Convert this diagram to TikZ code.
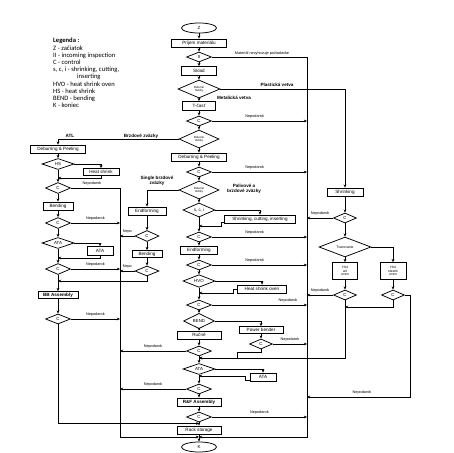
\documentclass[tikz,border=0pt]{standalone}
\usepackage{fontspec}
\setmainfont{Liberation Sans}
\newfontfamily\legfont{Carlito}
\usetikzlibrary{shapes.geometric,arrows.meta}
\newcommand{\fsz}[1]{\fontsize{#1}{#1}\selectfont}
\tikzset{
 every node/.style={inner sep=0pt},
 box/.style={draw, line width=0.75pt, rectangle, font=\fsz{4.6}, align=center},
 dia/.style={draw, line width=0.75pt, diamond, font=\fsz{4.4}, align=center},
 ov/.style={draw, line width=0.75pt, ellipse, font=\fsz{4.4}},
 ln/.style={line width=0.75pt},
 ar/.style={ln, -{Stealth[length=3.2pt,width=2.8pt]}},
 lab/.style={font=\fsz{3.8}},
 blab/.style={font=\bfseries\fsz{4.6}, align=center},
}
\begin{document}
\begin{tikzpicture}[x=1pt,y=-1pt]
\useasboundingbox (0,0) rectangle (453,453);
\fill[white] (0,0) rectangle (453,453);
\coordinate (R) at (307,0);
\coordinate (L) at (120,0);
% legend
\node[anchor=north west, align=left, font=\legfont\fontsize{6.6}{7.2}\selectfont] (legend) at (53,38)
 {\textbf{Legenda :}\\Z - začiatok\\II - incoming inspection\\C - control\\s, c, i - shrinking, cutting,\\\hspace*{24pt}inserting\\HVO - heat shrink oven\\HS - heat shrink\\BEND - bending\\K - koniec};
% main column
\node[ov, minimum width=35pt, minimum height=10pt] (z) at (199,28) {Z};
\node[box, minimum width=55pt, minimum height=8pt] (prijem) at (199,43) {Príjem materiálu};
\node[dia, minimum width=25pt, minimum height=10pt] (ii) at (199,57) {II};
\node[box, minimum width=35pt, minimum height=9pt] (sklad) at (199,71) {Sklad};
\node[dia, font=\fsz{3}, minimum width=42pt, minimum height=18pt] (del1) at (199,89) {Delenie\\trubky};
\node[box, minimum width=33pt, minimum height=9pt] (tcast) at (199,106) {T-časť};
\node[dia, minimum width=25pt, minimum height=10pt] (c1) at (199,121) {C};
\node[dia, font=\fsz{3}, minimum width=40pt, minimum height=18pt] (del2) at (199,139) {Delenie\\trubky};
\node[box, minimum width=55pt, minimum height=8pt] (dp) at (199,157) {Deburring \& Peeling};
\node[dia, minimum width=25pt, minimum height=10pt] (c2) at (199,172) {C};
\node[dia, font=\fsz{3}, minimum width=40pt, minimum height=18pt] (del3) at (199,190) {Delenie\\trubky};
\node[dia, minimum width=32pt, minimum height=12pt] (sci) at (199,210) {s, c, i};
\node[box, minimum width=71pt, minimum height=8pt] (scibox) at (260,219) {Shrinking, cutting, inserting};
\node[dia, minimum width=25pt, minimum height=10pt] (c3) at (199,237) {C};
\node[box, minimum width=37pt, minimum height=8pt] (endf) at (199,250) {Endforming};
\node[dia, minimum width=25pt, minimum height=10pt] (c4) at (199,265) {C};
\node[dia, minimum width=32pt, minimum height=11pt] (hvo) at (199,281) {HVO};
\node[box, minimum width=49pt, minimum height=8pt] (hso) at (262,289) {Heat shrink oven};
\node[dia, minimum width=25pt, minimum height=10pt] (c5) at (199,305) {C};
\node[dia, minimum width=31pt, minimum height=11pt] (bend) at (199,321) {BEND};
\node[box, minimum width=44pt, minimum height=7pt] (pb) at (261,330) {Power bender};
\node[dia, minimum width=23pt, minimum height=10pt] (cpb) at (261,344) {C};
\node[box, minimum width=44pt, minimum height=8pt] (rucne) at (199,335) {Ručné};
\node[dia, minimum width=25pt, minimum height=10pt] (c6) at (199,351) {C};
\node[dia, minimum width=32pt, minimum height=11pt] (ata) at (199,369) {ATA};
\node[box, minimum width=26pt, minimum height=8pt] (atabox) at (263,377) {ATA};
\node[dia, minimum width=25pt, minimum height=10pt] (c7) at (199,389) {C};
\node[box, font=\bfseries\fsz{4.6}, minimum width=44pt, minimum height=8pt] (rf) at (199,402) {R\&F Assembly};
\node[dia, minimum width=25pt, minimum height=10pt] (c8) at (199,417) {C};
\node[box, minimum width=44pt, minimum height=8pt] (rack) at (199,430) {Rack storage};
\node[ov, minimum width=35pt, minimum height=10pt] (k) at (199,447) {K};
% left column
\node[box, minimum width=55pt, minimum height=8pt] (ldp) at (58,149) {Deburring \& Peeling};
\node[dia, minimum width=32pt, minimum height=11pt] (hs) at (58,164) {HS};
\node[box, minimum width=36pt, minimum height=7pt] (hsbox) at (101,172) {Heat shrink};
\node[dia, minimum width=25pt, minimum height=11pt] (lc1) at (58,188) {C};
\node[box, minimum width=30pt, minimum height=8pt] (lbend) at (58,206) {Bending};
\node[dia, minimum width=25pt, minimum height=11pt] (lc2) at (58,223) {C};
\node[dia, minimum width=32pt, minimum height=11pt] (lata) at (58,243) {ATA};
\node[box, minimum width=26pt, minimum height=9pt] (latabox) at (100,251) {ATA};
\node[dia, minimum width=25pt, minimum height=11pt] (lc3) at (58,269) {C};
\node[box, font=\bfseries\fsz{4.6}, minimum width=40pt, minimum height=7pt] (bb) at (58,295) {BB Assembly};
\node[dia, minimum width=25pt, minimum height=10pt] (lc4) at (58,319) {C};
% single column
\node[box, minimum width=38pt, minimum height=8pt] (send) at (147,211) {Endforming};
\node[dia, minimum width=24pt, minimum height=11pt] (sc1) at (147,236) {C};
\node[box, minimum width=30pt, minimum height=7pt] (sbend) at (147,254) {Bending};
\node[dia, minimum width=24pt, minimum height=10pt] (sc2) at (147,271) {C};
% right column
\node[box, minimum width=36pt, minimum height=8pt] (shr) at (345,192) {Shrinking};
\node[dia, minimum width=23pt, minimum height=10pt] (rc1) at (345,218) {C};
\node[dia, font=\fsz{3.5}, minimum width=52pt, minimum height=13pt] (tvar) at (345,247) {Tvarovanie};
\node[box, font=\fsz{3.5}, minimum width=25pt, minimum height=17pt] (hao) at (345,271) {Hot\\air\\oven};
\node[box, font=\fsz{3.5}, minimum width=26pt, minimum height=17pt] (hst) at (393,271) {Hot\\steam\\oven};
\node[dia, minimum width=23pt, minimum height=10pt] (rc2) at (345,295) {C};
\node[dia, minimum width=23pt, minimum height=10pt] (rc3) at (393,295) {C};
% join coordinates
\coordinate (j1) at (199,226);
\coordinate (j2) at (199,293);
\coordinate (j3) at (199,358);
\coordinate (j4) at (199,376);
\coordinate (j5) at (199,423.5);
\coordinate (kin) at (199,437);
\coordinate (lj1) at (58,178);
\coordinate (lj2) at (58,258);
\coordinate (lj3) at (58,281);
\coordinate (rj1) at (345,307);
\coordinate (rj2) at (307,397);
% main flow
\draw[ar] (z) -- (prijem);
\draw[ar] (prijem) -- (ii);
\draw[ar] (ii) -- (sklad);
\draw[ar] (sklad) -- (del1);
\draw[ar] (del1) -- (tcast);
\draw[ar] (tcast) -- (c1);
\draw[ar] (c1) -- (del2);
\draw[ar] (del2) -- (dp);
\draw[ar] (dp) -- (c2);
\draw[ar] (c2) -- (del3);
\draw[ar] (del3) -- (sci);
\draw[ar] (sci) -- (c3);
\draw[ar] (c3) -- (endf);
\draw[ar] (endf) -- (c4);
\draw[ar] (c4) -- (hvo);
\draw[ar] (hvo) -- (c5);
\draw[ar] (c5) -- (bend);
\draw[ar] (bend) -- (rucne);
\draw[ar] (rucne) -- (c6);
\draw[ar] (c6) -- (ata);
\draw[ar] (ata) -- (c7);
\draw[ar] (c7) -- (rf);
\draw[ar] (rf) -- (c8);
\draw[ar] (c8) -- (rack);
\draw[ar] (rack) -- (k);
% side branches main
\draw[ar] (sci.east) -| (scibox.north);
\draw[ar] ([yshift=1pt]scibox.south west) -- ++(-3,0) |- (j1);
\draw[ar] (hvo.east) -| (hso.north);
\draw[ar] (hso.west) -- ++(-4,0) |- (j2);
\draw[ar] (bend.east) -| (pb.north);
\draw[ar] (pb) -- (cpb);
\draw[ar] (cpb.south) -- (261,352) -- (237,352) -- (237,358) -- (j3);
\draw[ar] (ata.east) -| (atabox.north);
\draw[ar] ([yshift=1.5pt]atabox.south west) -- ++(-4,0) |- (j4);
% reject line right
\draw[ar] (ii.east) -| (307,437) -- (kin);
\node[lab] at (262,53) {Materiál nevyhovuje požiadavke};
\draw[ar] (c1.east) -- (c1.east -| R) node[lab, pos=0.45, above=2pt] {Nepodarok};
\draw[ar] (c2.east) -- (c2.east -| R) node[lab, pos=0.45, above=2pt] {Nepodarok};
\draw[ar] (c3.east) -- (c3.east -| R) node[lab, pos=0.45, above=2pt] {Nepodarok};
\draw[ar] (c4.east) -- (c4.east -| R) node[lab, pos=0.45, above=2pt] {Nepodarok};
\draw[ar] (c5.east) -- (c5.east -| R) node[lab, pos=0.8, above=2pt] {Nepodarok};
\draw[ar] (cpb.east) -- (cpb.east -| R) node[lab, pos=0.5, above=2pt] {Nepodarok};
\draw[ar] (c8.east) -- (c8.east -| R) node[lab, pos=0.5, above=2pt] {Nepodarok};
% reject line left
\draw[ar] (lc1.east) -| (120,437) -- (kin);
\draw[ar] (c6.west) -- (c6.west -| L) node[lab, pos=0.5, above=2pt] {Nepodarok};
\draw[ar] (c7.west) -- (c7.west -| L) node[lab, pos=0.5, above=2pt] {Nepodarok};
\node[lab] at (92,184) {Nepodarok};
\draw[ar] (lc2.east) -- (lc2.east -| L) node[lab, pos=0.5, above=2pt] {Nepodarok};
\draw[ar] (lc3.east) -- (lc3.east -| L) node[lab, pos=0.5, above=2pt] {Nepodarok};
\draw[ar] (lc4.east) -- (lc4.east -| L) node[lab, pos=0.5, above=2pt] {Nepodarok};
\draw[ar] (sc1.west) -- (sc1.west -| L) node[lab, pos=0.5, above=2pt] {Nepo};
\draw[ar] (sc2.west) -- (sc2.west -| L) node[lab, pos=0.5, above=2pt] {Nepo};
% branches
\draw[ar] (del1.east) -| (shr.north);
\node[blab] at (277,85) {Plastická vetva};
\node[blab] at (234,98) {Metalická vetva};
\draw[ar] (del2.west) -| (ldp.north);
\node[blab] at (141,136) {Brzdové zväzky};
\node[blab] at (70,136) {ATL};
\draw[ar] (del3.west) -| (send.north);
\node[blab] at (157,181) {Single brzdové\\zväzky};
\node[blab] at (244,189) {Palivové a\\brzdové zväzky};
% left column flow
\draw[ar] (ldp) -- (hs);
\draw[ar] (hs) -- (lc1);
\draw[ar] (hs.east) -| (hsbox.north);
\draw[ar] (hsbox.south) |- (lj1);
\draw[ar] (lc1) -- (lbend);
\draw[ar] (lbend) -- (lc2);
\draw[ar] (lc2) -- (lata);
\draw[ar] (lata) -- (lc3);
\draw[ar] (lata.east) -| (latabox.north);
\draw[ar] (latabox.south) |- (lj2);
\draw[ar] (lc3) -- (bb);
\draw[ar] (bb) -- (lc4);
\draw[ar] (lc4.south) |- (j5);
% single column flow
\draw[ar] (send) -- (sc1);
\draw[ar] (sc1) -- (sbend);
\draw[ar] (sbend) -- (sc2);
\draw[ar] (sc2.south) |- (lj3);
% right column flow
\draw[ar] (shr) -- (rc1);
\draw[ar] (rc1.west) -- (rc1.west -| R) node[lab, pos=0.5, above=2pt] {Nepodarok};
\draw[ar] (rc1) -- (tvar);
\draw[ar] (tvar) -- (hao);
\draw[ar] (tvar.east) -| (hst.north);
\draw[ar] (hao) -- (rc2);
\draw[ar] (hst) -- (rc3);
\draw[ar] (rc2.west) -- (rc2.west -| R) node[lab, pos=0.5, above=2pt] {Nepodarok};
\draw[ar] (rc3.south) |- (rj1);
\draw[ar] (rc2.south) |- (j3);
\draw[ar] (rc3.east) -| (410,397) -- (rj2);
\node[lab] at (362,393) {Nepodarok};
\end{tikzpicture}
\end{document}
